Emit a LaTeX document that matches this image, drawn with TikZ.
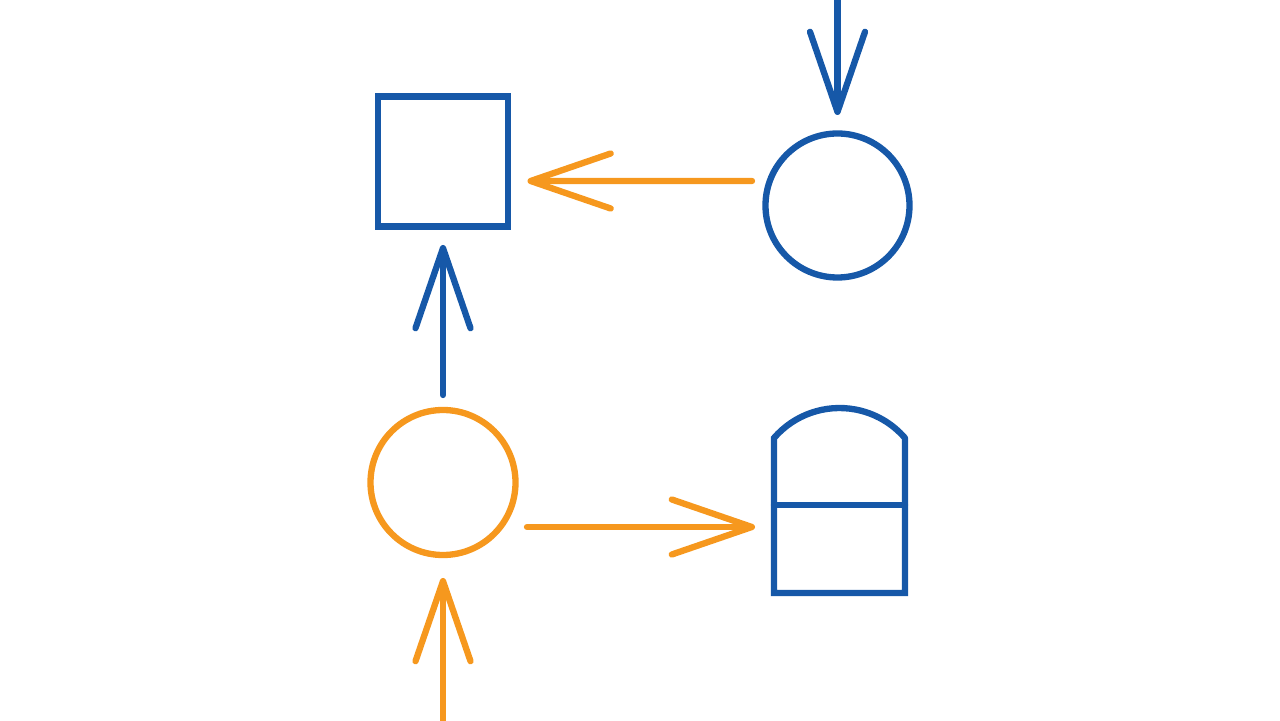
\documentclass[tikz,border=0pt]{standalone}
\usepackage{tikz}
\usetikzlibrary{arrows.meta,positioning,calc}
\definecolor{flowblue}{RGB}{22,88,168}
\definecolor{floworange}{RGB}{246,152,30}

\begin{document}
\begin{tikzpicture}[>={Straight Barb[length=1.6cm,width=1.1cm,round]},
     line width=3.6pt, line cap=round,
     symbox/.style={draw, inner sep=0pt, outer sep=0pt},
     blueflow/.style={->, flowblue},
     orangeflow/.style={->, floworange}]
    \useasboundingbox (0,0) rectangle (25.6,14.4);
    \node[symbox, flowblue, minimum size=2.6cm] (store) at (8.86, 11.17) {};
    \node[symbox, flowblue, circle, minimum size=2.88cm] (source) at (16.75, 10.29) {};
    \node[symbox, floworange, circle, minimum size=2.9cm] (proc) at (8.86, 4.75) {};
    \node[inner sep=0pt, outer sep=0pt, minimum width=2.62cm, minimum height=3.1cm] (tank) at (16.79, 4.09) {};
    % tank outline with arched top, and its divider
    \draw[flowblue, line join=miter] (tank.north east) -- (tank.south east) -- (tank.south west) -- (tank.north west)
        arc[start angle=139.2, end angle=40.8, radius=1.73cm];
    \draw[flowblue] ($(tank.south west)+(0,1.76)$) -- ($(tank.south east)+(0,1.76)$);
    \coordinate (intop) at (16.75, 14.6);
    \coordinate (inbottom) at (8.86, -0.2);
    \path (intop) edge[blueflow, shorten >=0.37cm] (source);
    \path ($(source.west)+(-0.27,0.49)$) edge[orangeflow] ($(store.east)+(0.39,-0.39)$);
    \path (proc) edge[blueflow, shorten <=0.3cm, shorten >=0.37cm] (store);
    \path ($(proc.east)+(0.23,-0.89)$) edge[orangeflow] ($(tank.west)+(-0.38,-0.23)$);
    \path (inbottom) edge[orangeflow, shorten >=0.46cm] (proc);
\end{tikzpicture}
\end{document}
